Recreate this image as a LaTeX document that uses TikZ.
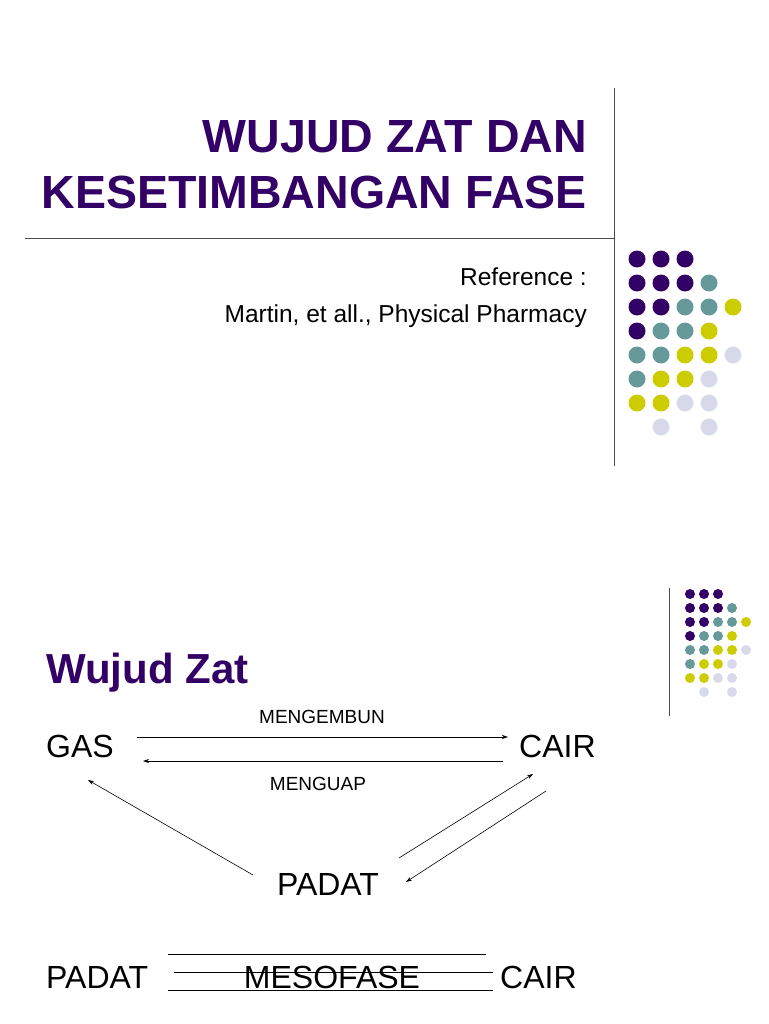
\documentclass[tikz,border=0pt]{standalone}
\usepackage{fontspec}
\setmainfont{Liberation Sans}
\usetikzlibrary{arrows.meta}
\definecolor{tpurple}{HTML}{330066}
\definecolor{dP}{HTML}{330066}
\definecolor{dT}{HTML}{669999}
\definecolor{dY}{HTML}{CCCC00}
\definecolor{dL}{HTML}{D9D9EC}
\definecolor{dN}{HTML}{FFFFFF}
\newcommand{\mydotrow}[5]{%
  \foreach \col [count=\c from 0] in {#5}{%
      \fill[d\col] (#1+\c*#3,#2) circle (#4);}}
\newcommand{\mygrid}[4]{%
  \mydotrow{#1}{#2+0*#3}{#3}{#4}{P,P,P,N,N}
  \mydotrow{#1}{#2+1*#3}{#3}{#4}{P,P,P,T,N}
  \mydotrow{#1}{#2+2*#3}{#3}{#4}{P,P,T,T,Y}
  \mydotrow{#1}{#2+3*#3}{#3}{#4}{P,T,T,Y,N}
  \mydotrow{#1}{#2+4*#3}{#3}{#4}{T,T,Y,Y,L}
  \mydotrow{#1}{#2+5*#3}{#3}{#4}{T,Y,Y,L,N}
  \mydotrow{#1}{#2+6*#3}{#3}{#4}{Y,Y,L,L,N}
  \mydotrow{#1}{#2+7*#3}{#3}{#4}{N,L,N,L,N}}
\begin{document}
\begin{tikzpicture}[x=1pt,y=-1pt,
  title/.style={font=\fontsize{46.5}{50}\selectfont\bfseries,text=tpurple,inner sep=0},
  ref/.style={font=\fontsize{24.5}{28}\selectfont,inner sep=0},
  big/.style={font=\fontsize{32}{36}\selectfont,inner sep=0},
  small/.style={font=\fontsize{19}{22}\selectfont,inner sep=0},
  arr/.style={-{Stealth[length=6pt,width=4pt]},line width=0.6pt},
  rule/.style={line width=0.8pt,black!70}]
\useasboundingbox (0,0) rectangle (768,1024);
% slide 1
\draw[rule] (614,88) -- (614,466);
\draw[rule] (25,238) -- (614,238);
\node[title,anchor=base east] (t1) at (587,153) {WUJUD ZAT DAN};
\node[title,anchor=base east] (t2) at (587,209) {KESETIMBANGAN FASE};
\node[ref,anchor=base east] (r1) at (587,285) {Reference :};
\node[ref,anchor=base east] (r2) at (587,322) {Martin, et all., Physical Pharmacy};
\mygrid{637}{259}{24}{8.5}
% slide 2
\draw[rule] (669,588) -- (669,716);
\mygrid{690}{594}{14}{5}
\node[font=\fontsize{42}{46}\selectfont\bfseries,text=tpurple,inner sep=0,anchor=base west] (wz) at (46,683) {Wujud Zat};
\node[big,anchor=base west] (gas) at (46,757) {GAS};
\node[big,anchor=base west] (cair) at (519,757) {CAIR};
\node[big,anchor=base] (padat) at (328,895) {PADAT};
\node[small,anchor=base] (emb) at (322,723) {MENGEMBUN};
\node[small,anchor=base] (uap) at (318,790) {MENGUAP};
\coordinate (a1) at (137,737); \coordinate (b1) at (508,737);
\coordinate (a2) at (503,761); \coordinate (b2) at (143,761);
\coordinate (a3) at (253,875); \coordinate (b3) at (88,780);
\coordinate (a4) at (399,858); \coordinate (b4) at (533,774);
\coordinate (a5) at (546,791); \coordinate (b5) at (406,882);
\draw[arr] (a1) -- (b1);
\draw[arr] (a2) -- (b2);
\draw[arr] (a3) -- (b3);
\draw[arr] (a4) -- (b4);
\draw[arr] (a5) -- (b5);
\node[big,anchor=base west] (p2) at (46,988) {PADAT};
\node[big,anchor=base] (meso) at (332,988) {MESOFASE};
\node[big,anchor=base west] (c2) at (500,988) {CAIR};
\coordinate (l1) at (168,954); \coordinate (m1) at (486,954);
\coordinate (l2) at (174,972); \coordinate (m2) at (493,972);
\coordinate (l3) at (168,990); \coordinate (m3) at (493,990);
\draw[line width=0.6pt] (l1) -- (m1) (l2) -- (m2) (l3) -- (m3);
\end{tikzpicture}
\end{document}
